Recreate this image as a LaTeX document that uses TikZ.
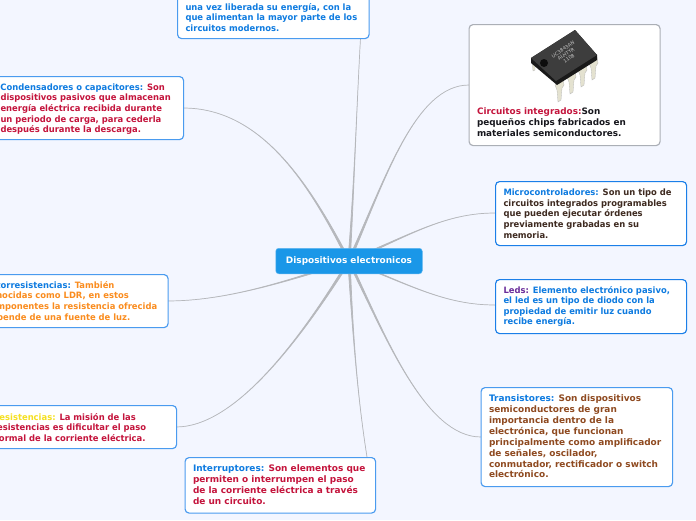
\documentclass[tikz,border=0pt]{standalone}
\usepackage{fontspec}
\setmainfont{DejaVu Sans}[BoldFont={DejaVu Sans Bold}]
\newfontfamily\narrowf{DejaVu Sans Bold}[FakeStretch=0.96]
\usetikzlibrary{calc}
\definecolor{bgc}{HTML}{F3F6FF}
\definecolor{hubc}{HTML}{1A97E8}
\definecolor{linec}{HTML}{B6B8BC}
\definecolor{bl}{HTML}{0E7BE0}
\definecolor{crim}{HTML}{C4143C}
\definecolor{orng}{HTML}{FA8C1E}
\definecolor{yel}{HTML}{F5E020}
\definecolor{brn}{HTML}{3E2A20}
\definecolor{rust}{HTML}{8F4A20}
\definecolor{purp}{HTML}{6A2D9A}
\definecolor{blk}{HTML}{16161C}
\definecolor{cardline}{HTML}{4A9BEF}
\definecolor{darkline}{HTML}{1B7FE8}
\definecolor{grayline}{HTML}{ABAFB6}
\definecolor{pinc}{HTML}{E4E2D0}
\tikzset{
  x=1pt,y=-1pt,
  card/.style={draw=#1,line width=1.15pt,fill=white,rounded corners=4pt,anchor=north west,inner sep=0pt},
  cardtext/.style={anchor=north west,inner sep=0pt,align=left,font=\narrowf\fontsize{8.75}{10.62}\selectfont},
  widetext/.style={font=\fontsize{8.95}{10.95}\selectfont\bfseries},
  chiptext/.style={font=\fontsize{8.85}{11}\selectfont\bfseries},
  conn/.style={draw=linec,fill=linec,line width=.7pt,line join=round},
  hubnode/.style={fill=hubc,draw=hubc!70!white,line width=.5pt,rounded corners=3pt,text=white,anchor=north west,
    minimum width=146.5pt,minimum height=25.5pt,inner sep=0pt,font=\fontsize{8.95}{11}\selectfont\bfseries}
}
% box: [text style], name, x, y, w, h, colour, text top inset, text
\newcommand{\cardbox}[9][]{%
  \node[card=#7,minimum width=#5pt,minimum height=#6pt] (#2) at (#3,#4) {};
  \node[cardtext,#1] (#2t) at ($(#3,#4)+(8.3,#8+.8)$) {#9};}
% tapered connector: half-width at hub (dx,dy), controls, free end
\newcommand{\taper}[5]{%
  \draw[conn] ($(hub)+(#1,#2)$) .. controls (#3) and (#4) .. (#5)
     .. controls (#4) and (#3) .. ($(hub)+(-#1,-#2)$) -- cycle;}
\begin{document}
\begin{tikzpicture}
\useasboundingbox (0,0) rectangle (696,520);
\clip (0,0) rectangle (696,520);
\fill[bgc] (0,0) rectangle (696,520);
\coordinate (hub) at (349,261);
\coordinate (topend) at (360.5,38);
\coordinate (condend) at (183,108);
\coordinate (fotoend) at (167,301);
\coordinate (resend) at (176,427);
\coordinate (intend) at (367,457);
\coordinate (traend) at (481,437);
\coordinate (ledend) at (495,305);
\coordinate (micend) at (495,213);
\coordinate (cirend) at (469,85);
% connectors
\taper{1.2}{0}{354,190}{357,100}{topend}
\taper{1}{-.8}{310,185}{262,108}{condend}
\taper{0}{1.3}{285,282}{225,301}{fotoend}
\taper{1}{.8}{300,340}{235,427}{resend}
\taper{1.2}{0}{353,340}{358,400}{intend}
\taper{1}{-.8}{385,335}{425,437}{traend}
\taper{0.6}{1}{410,285}{445,305}{ledend}
\taper{0.6}{1}{410,235}{445,213}{micend}
\taper{1}{.8}{385,180}{415,85}{cirend}
% hub
\node[hubnode] (hubbox) at (275.5,248) {Dispositivos electronicos};
% cards
\cardbox{bat}{177}{-30}{191.5}{68}{cardline}{32.3}{\textcolor{bl}{una vez liberada su energía, con la}\\\textcolor{bl}{que alimentan la mayor parte de los}\\\textcolor{bl}{circuitos modernos.}}
\cardbox{con}{-8}{76}{191}{63}{cardline}{6.7}{\textcolor{bl}{Condensadores o capacitores:} \textcolor{crim}{Son}\\\textcolor{crim}{dispositivos pasivos que almacenan}\\\textcolor{crim}{energía eléctrica recibida durante}\\\textcolor{crim}{un periodo de carga, para cederla}\\\textcolor{crim}{después durante la descarga.}}
\cardbox{fot}{-23}{274}{190.5}{53}{cardline}{6.2}{\textcolor{bl}{Fotorresistencias:} \textcolor{orng}{También}\\\textcolor{orng}{conocidas como LDR, en estos}\\\textcolor{orng}{componentes la resistencia ofrecida}\\\textcolor{orng}{depende de una fuente de luz.}}
\cardbox{res}{-15.5}{405}{191.5}{43}{cardline}{7}{\textcolor{yel}{Resistencias:} \textcolor{crim}{La misión de las}\\\textcolor{crim}{resistencias es dificultar el paso}\\\textcolor{crim}{normal de la corriente eléctrica.}}
\cardbox[widetext]{int}{184.5}{457}{190.5}{55.5}{cardline}{7}{\textcolor{bl}{Interruptores:} \textcolor{crim}{Son elementos que}\\\textcolor{crim}{permiten o interrumpen el paso}\\\textcolor{crim}{de la corriente eléctrica a través}\\\textcolor{crim}{de un circuito.}}
\cardbox[chiptext]{cir}{468.5}{24}{191}{121}{grayline}{82.5}{\textcolor{crim}{Circuitos integrados:}\textcolor{blk}{Son}\\\textcolor{blk}{pequeños chips fabricados en}\\\textcolor{blk}{materiales semiconductores.}}
\cardbox{mic}{495}{181}{191}{64}{darkline}{7}{\textcolor{bl}{Microcontroladores:} \textcolor{brn}{Son un tipo de}\\\textcolor{brn}{circuitos integrados programables}\\\textcolor{brn}{que pueden ejecutar órdenes}\\\textcolor{brn}{previamente grabadas en su}\\\textcolor{brn}{memoria.}}
\cardbox{led}{495}{279}{191}{54}{darkline}{6}{\textcolor{purp}{Leds:} \textcolor{bl}{Elemento electrónico pasivo,}\\\textcolor{bl}{el led es un tipo de diodo con la}\\\textcolor{bl}{propiedad de emitir luz cuando}\\\textcolor{bl}{recibe energía.}}
\cardbox[widetext]{tra}{480.5}{387}{191.5}{99}{cardline}{6.5}{\textcolor{bl}{Transistores:} \textcolor{rust}{Son dispositivos}\\\textcolor{rust}{semiconductores de gran}\\\textcolor{rust}{importancia dentro de la}\\\textcolor{rust}{electrónica, que funcionan}\\\textcolor{rust}{principalmente como amplificador}\\\textcolor{rust}{de señales, oscilador,}\\\textcolor{rust}{conmutador, rectificador o switch}\\\textcolor{rust}{electrónico.}}
% chip picture
\fill[white] (527,30) rectangle (601,105);
\fill[pinc,draw=gray!50,line width=.3pt] (532,60) -- (535,62) -- (535,70) -- (533,71) -- cycle;
\foreach \px/\py in {558/82,570/74,581/67,592/60}{
  \fill[pinc,draw=gray!55,line width=.3pt] (\px,\py) -- (\px+5,\py-3) -- (\px+6,\py+3) -- (\px+4,\py+6) -- (\px+3,\py+18) -- (\px,\py+20) -- (\px-1,\py+8) -- (\px-3,\py+3) -- cycle;
}
\fill[black!90] (531,58) -- (575,30) -- (597,55) -- (597,60) -- (557,85) -- (531,63) -- cycle;
\fill[black!76] (531,58) -- (575,30) -- (597,55) -- (556,81) -- cycle;
\fill[black!95] (544,63) circle (4);
\node[rotate=33,font=\fontsize{4.8}{5.4}\selectfont,text=gray!45!white,align=center,inner sep=0pt] (chipmark) at (566,54) {UC3843AN\\ALHTYR\\1108};
\end{tikzpicture}
\end{document}
